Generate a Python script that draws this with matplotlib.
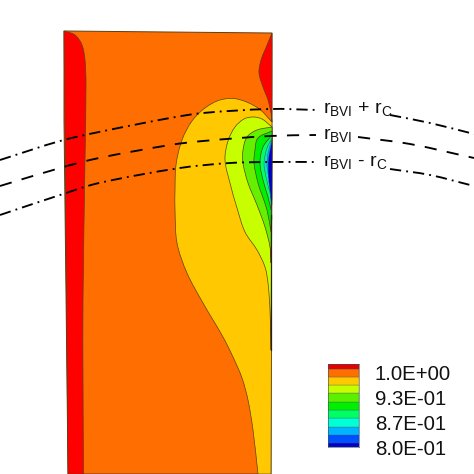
import numpy as np
import matplotlib
matplotlib.use("Agg")
import matplotlib.pyplot as plt
from matplotlib.path import Path
from matplotlib.patches import PathPatch

plt.rcParams['font.family'] = ['Liberation Sans', 'DejaVu Sans']
plt.rcParams['mathtext.fontset'] = 'custom'
plt.rcParams['mathtext.rm'] = 'Liberation Sans'

# Contour-band outlines (image pixel coordinates)
body = [(64, 31), (272, 33), (271, 474), (68, 474), (67, 380), (64, 120)]
red_left = [(64, 31), (75, 35), (82, 45), (85, 60), (86, 85), (85, 160), (83, 300), (83, 380), (83.5, 474)]
red_left_tail = [(68, 474)]
red_right = [(272, 33), (265, 50), (261, 60), (259, 73), (263, 87), (268, 100), (271, 113), (272, 122)]
gold = [(272, 122), (258, 108), (237, 99), (220, 100), (205, 108), (192, 121), (182, 140), (176, 165), (175, 190),
        (175, 210), (177, 243), (187, 273), (203, 303), (223, 337), (233, 357), (242, 378), (248, 400), (253, 430),
        (258, 474)]
gold_tail = [(271, 474)]
lime = [(272, 127), (262, 119), (253, 117), (244, 119), (235, 127), (228, 141), (225, 160), (230, 183), (237, 208),
        (245, 232), (257, 250), (265, 267), (268, 283), (270, 310), (271, 350)]
band_a = [(272, 127), (257, 130), (247, 137), (243, 150), (243, 163), (248, 183), (257, 205), (265, 227), (270, 247),
          (271, 263)]
band_b = [(272, 131), (258, 138), (255, 150), (254, 163), (258, 183), (262, 195), (267, 210), (271, 232)]
band_c = [(272, 135), (263, 147), (260, 163), (263, 180), (268, 197), (271, 210)]
band_d = [(272, 138), (267, 148), (264, 163), (266, 177), (270, 193), (272, 205)]
band_e = [(272, 139), (268, 153), (267, 167), (270, 183), (272, 200)]
band_f = [(272, 140), (268.5, 160), (268.5, 177), (271, 200), (272, 220)]
edge_line = [(271.5, 215), (271.5, 350)]

# Radius lines
r_plus_left = [(0, 160), (60, 141), (99, 132), (170, 118), (203, 113), (270, 109), (318, 110)]
r_plus_right = [(390, 115), (430, 123), (474, 134)]
r_mid_left = [(0, 186), (60, 168), (99, 158), (170, 145), (203, 141), (270, 136), (316, 135)]
r_mid_right = [(358, 137), (410, 144), (474, 158)]
r_minus_left = [(0, 215), (60, 195), (99, 183), (180, 168), (230, 163), (270, 162), (318, 162)]
r_minus_right = [(390, 169), (430, 175), (474, 186)]

# Legend
legend_edges = [0.8, 0.8123, 0.833, 0.855, 0.878, 0.900, 0.922, 0.945, 0.967, 0.988, 1.009, 1.0228]
legend_colors = ['#0000c8', '#0050ff', '#00b4ff', '#00ffd2', '#00ff64', '#00f000', '#5cf000',
                 '#c8ff00', '#ffc800', '#ff6e00', '#e60000']
legend_ticks = [1.0, 0.933, 0.867, 0.8]
legend_labels = ['1.0E+00', '9.3E-01', '8.7E-01', '8.0E-01']


def smooth(points):
    p = np.array(points, float)
    verts, codes = [tuple(p[0])], [Path.MOVETO]
    n = len(p)
    tang = np.zeros_like(p)
    for i in range(n):
        a, b = p[max(i - 1, 0)], p[min(i + 1, n - 1)]
        d = b - a
        tang[i] = d / np.hypot(*d)
    for i in range(n - 1):
        h = np.hypot(*(p[i + 1] - p[i])) / 3
        verts += [tuple(p[i] + tang[i] * h), tuple(p[i + 1] - tang[i + 1] * h), tuple(p[i + 1])]
        codes += [Path.CURVE4] * 3
    return verts, codes


def region(ax, points, color, z, lw=0.5, tail=()):
    verts, codes = smooth(points)
    for t in tail:
        verts.append(t)
        codes.append(Path.LINETO)
    verts.append(verts[0])
    codes.append(Path.CLOSEPOLY)
    ax.add_patch(PathPatch(Path(verts, codes), facecolor=color, edgecolor='#5a4018', lw=lw, zorder=z))


def rline(ax, points, style):
    verts, codes = smooth(points)
    ax.add_patch(PathPatch(Path(verts, codes), fill=False, edgecolor='black', lw=1.35,
                           linestyle=style, zorder=20, capstyle='butt'))


fig = plt.figure(figsize=(4.74, 4.74), dpi=100)
ax = fig.add_axes([0, 0, 1, 1])
ax.set_xlim(0, 474)
ax.set_ylim(474, 0)
ax.axis('off')

ax.add_patch(plt.Polygon(body, facecolor='#ff6e00', edgecolor='#5a4018', lw=0.7, zorder=1))
region(ax, gold, '#ffc800', 2, tail=gold_tail)
region(ax, lime, '#c8ff00', 3)
region(ax, band_a, '#64f000', 4)
region(ax, band_b, '#00f000', 5)
region(ax, band_c, '#00ff64', 6)
region(ax, band_d, '#00e6c8', 7, lw=0.3)
region(ax, band_e, '#00a0ff', 8, lw=0.2)
region(ax, band_f, '#0000c8', 9, lw=0.2)
region(ax, red_left, '#ff0000', 10, tail=red_left_tail)
region(ax, red_right, '#ff0000', 10)
ax.plot(*zip(*edge_line), color='#302010', lw=0.9, zorder=11)

dashdot = (0, (6.0, 2.7, 1.0, 2.7))
dashed = (0, (6.5, 5.5))
rline(ax, r_plus_left, dashdot)
rline(ax, r_plus_right, dashdot)
rline(ax, r_mid_left, dashed)
rline(ax, r_mid_right, dashed)
rline(ax, r_minus_left, dashdot)
rline(ax, r_minus_right, dashdot)

ax.text(323, 114, r'r$_{\mathrm{BVI}}$ + r$_{\mathrm{C}}$', fontsize=14, color='#111111', va='baseline', zorder=25)
ax.text(323, 140, r'r$_{\mathrm{BVI}}$', fontsize=14, color='#111111', va='baseline', zorder=25)
ax.text(323, 167, r'r$_{\mathrm{BVI}}$ - r$_{\mathrm{C}}$', fontsize=14, color='#111111', va='baseline', zorder=25)

# Legend bar: 328..359 px wide, 364.3..447.3 px tall
lax = fig.add_axes([328 / 474, 1 - 447.3 / 474, 31 / 474, 83 / 474])
lax.set_xlim(0, 1)
lax.set_ylim(legend_edges[0], legend_edges[-1])
lax.bar(0.5, np.diff(legend_edges), bottom=legend_edges[:-1], width=1, color=legend_colors,
        edgecolor='#405060', linewidth=0.2)
lax.set_xticks([])
lax.yaxis.tick_right()
lax.set_yticks(legend_ticks)
lax.set_yticklabels(legend_labels, fontsize=14.7, color='#111111')
lax.tick_params(axis='y', length=0, pad=11.5)
for s in lax.spines.values():
    s.set_linewidth(0.4)
    s.set_color('#405060')

fig.savefig('out.png', dpi=100)
